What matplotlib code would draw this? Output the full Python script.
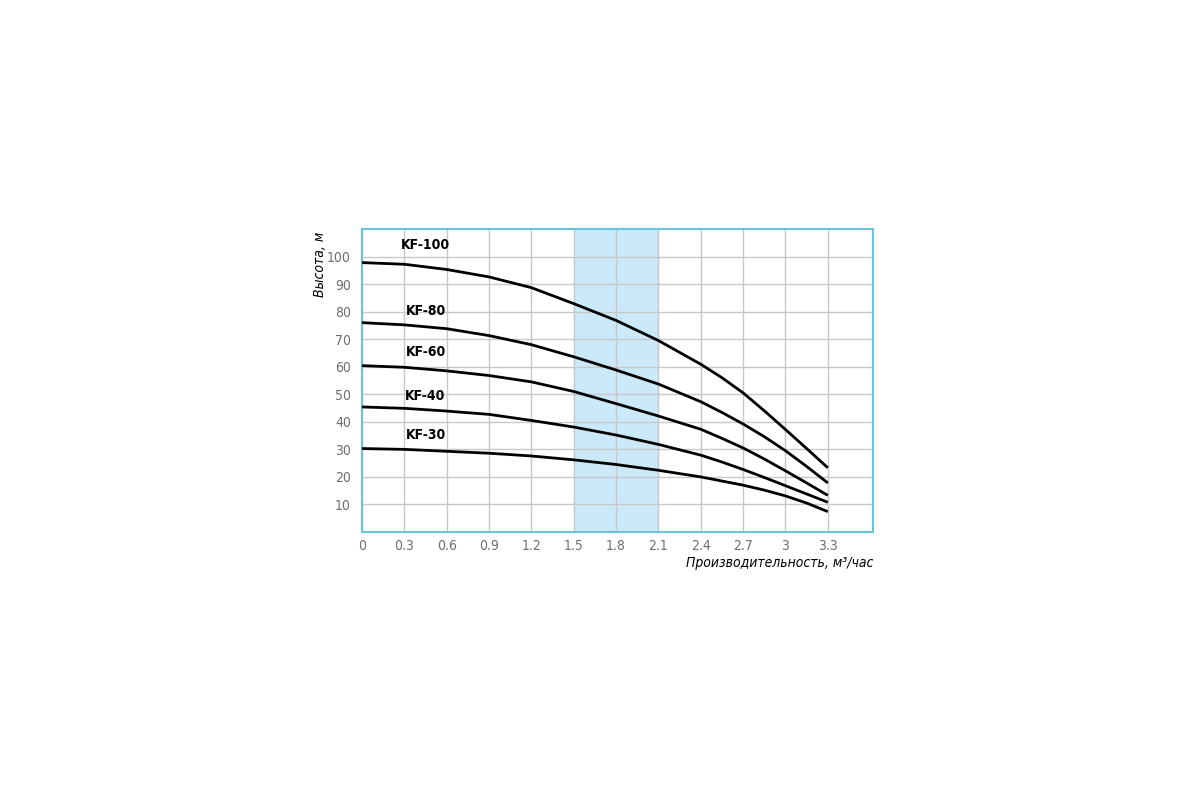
import matplotlib.pyplot as plt

# flow, m3/h
flow = [0, 0.3, 0.6, 0.9, 1.2, 1.5, 1.8, 2.1, 2.4, 2.55, 2.7, 2.85, 3.0, 3.15, 3.3]
# head, m
kf100 = [97.8, 97.2, 95.3, 92.6, 88.7, 82.9, 76.8, 69.5, 60.9, 56, 50.5, 44, 37.2, 30.3, 23.3]
kf80 = [76, 75.2, 73.8, 71.3, 68, 63.6, 58.8, 53.7, 47.3, 43.4, 39.2, 34.6, 29.5, 23.8, 17.8]
kf60 = [60.4, 59.8, 58.5, 56.8, 54.5, 51, 46.6, 42.1, 37.3, 34, 30.5, 26.5, 22.2, 17.8, 13.3]
kf40 = [45.4, 44.9, 43.9, 42.7, 40.5, 38.1, 35.2, 31.8, 27.9, 25.4, 22.7, 19.8, 16.8, 13.8, 10.8]
kf30 = [30.3, 30, 29.3, 28.6, 27.6, 26.2, 24.5, 22.4, 20, 18.5, 17, 15.2, 13.1, 10.5, 7.4]
curves = [("KF-100", kf100, 104.2), ("KF-80", kf80, 80.2), ("KF-60", kf60, 65.2),
          ("KF-40", kf40, 49.4), ("KF-30", kf30, 35.2)]
xticks = [0, 0.3, 0.6, 0.9, 1.2, 1.5, 1.8, 2.1, 2.4, 2.7, 3, 3.3]
xlabels = ["0", "0.3", "0.6", "0.9", "1.2", "1.5", "1.8", "2.1", "2.4", "2.7", "3", "3.3"]
yticks = [10, 20, 30, 40, 50, 60, 70, 80, 90, 100]
work_zone = (1.5, 2.1)

plt.rcParams['font.family'] = ['DejaVu Sans']
plt.rcParams['font.stretch'] = 'condensed'

fig = plt.figure(figsize=(12, 8), dpi=100)
ax = fig.add_axes([0.3017, 0.335, 0.4258, 0.37875])

ax.axvspan(*work_zone, color='#cbe9f9', zorder=0)
for name, head, ly in curves:
    ax.plot(flow, head, color='black', lw=2, zorder=3, solid_capstyle='butt')
    ax.text(0.45, ly, name, fontsize=10, fontweight='bold', ha='center', va='center')

ax.set_xlim(0, 3.62)
ax.set_ylim(0, 110)
ax.set_xticks(xticks)
ax.set_xticklabels(xlabels)
ax.set_yticks(yticks)
ax.tick_params(length=0, labelsize=10, labelcolor='#6e6e6e')
ax.tick_params(axis='y', pad=8)
ax.tick_params(axis='x', pad=5)
ax.grid(True, color='#c8c8c8', lw=1, zorder=1)
ax.set_axisbelow(True)
for s in ax.spines.values():
    s.set_color('#6cc4dc')
    s.set_linewidth(1.5)

ax.text(-0.082, 0.99, "Высота, м", transform=ax.transAxes, rotation=90,
        ha='center', va='top', fontsize=10, style='italic')
ax.text(1.0, -0.102, "Производительность, м³/час", transform=ax.transAxes,
        ha='right', va='center', fontsize=10, style='italic')

fig.savefig('out.png', dpi=100, facecolor='white')
